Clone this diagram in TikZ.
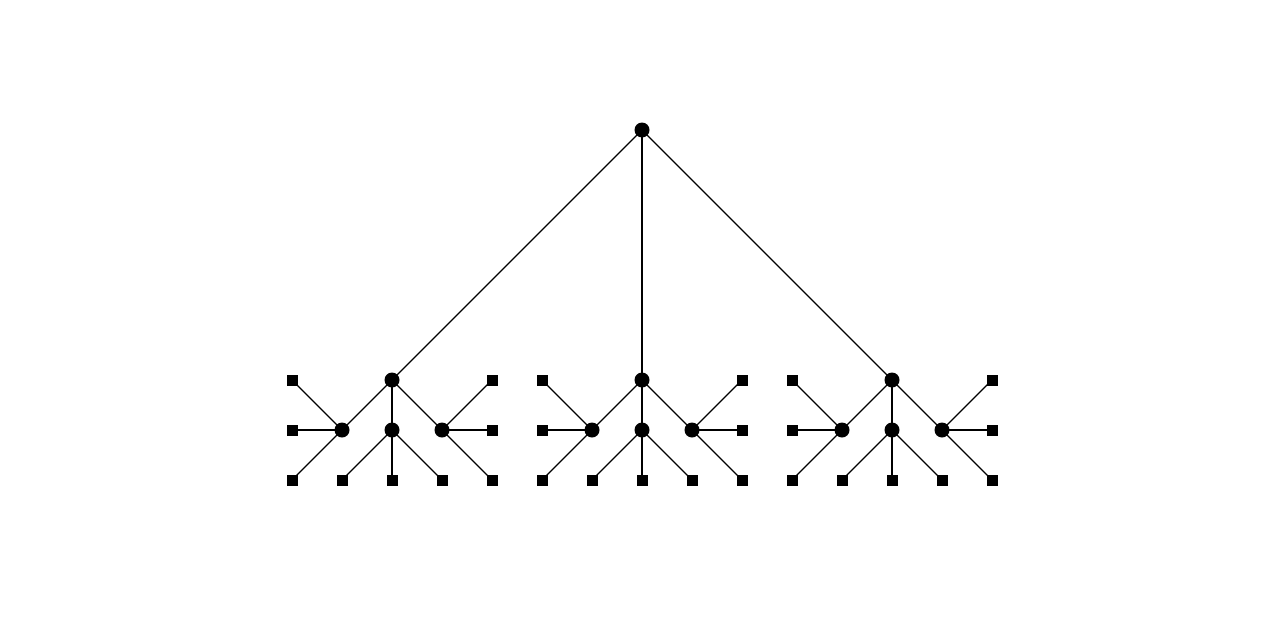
\documentclass[tikz,border=0pt]{standalone}
\begin{document}
\begin{tikzpicture}[x=1pt,y=-1pt,
  dot/.style={circle,fill=black,inner sep=0pt,minimum size=15pt},
  leaf/.style={rectangle,fill=black,inner sep=0pt,minimum size=11pt},
  edge/.style={draw=black,line width=1.1pt}]
\useasboundingbox (0,0) rectangle (1280,640);
\fill[white] (0,0) rectangle (1280,640);
\node[dot] (root) at (642,130) {};
\foreach \i/\cx in {1/392,2/642,3/892}{
  \node[dot] (t\i) at (\cx,380) {};
  \node[dot] (l\i) at (\cx-50,430) {};
  \node[dot] (c\i) at (\cx,430) {};
  \node[dot] (r\i) at (\cx+50,430) {};
  \node[leaf] (la\i) at (\cx-100,380) {};
  \node[leaf] (lb\i) at (\cx-100,430) {};
  \node[leaf] (lc\i) at (\cx-100,480) {};
  \node[leaf] (ca\i) at (\cx-50,480) {};
  \node[leaf] (cb\i) at (\cx,480) {};
  \node[leaf] (cc\i) at (\cx+50,480) {};
  \node[leaf] (ra\i) at (\cx+100,380) {};
  \node[leaf] (rb\i) at (\cx+100,430) {};
  \node[leaf] (rc\i) at (\cx+100,480) {};
  \begin{scope}[on background layer/.style={}]
  \end{scope}
  \draw[edge] (root.center) -- (t\i.center);
  \draw[edge] (t\i.center) -- (l\i.center);
  \draw[edge] (t\i.center) -- (c\i.center);
  \draw[edge] (t\i.center) -- (r\i.center);
  \draw[edge] (l\i.center) -- (la\i.center);
  \draw[edge] (l\i.center) -- (lb\i.center);
  \draw[edge] (l\i.center) -- (lc\i.center);
  \draw[edge] (c\i.center) -- (ca\i.center);
  \draw[edge] (c\i.center) -- (cb\i.center);
  \draw[edge] (c\i.center) -- (cc\i.center);
  \draw[edge] (r\i.center) -- (ra\i.center);
  \draw[edge] (r\i.center) -- (rb\i.center);
  \draw[edge] (r\i.center) -- (rc\i.center);
}
\end{tikzpicture}
\end{document}
